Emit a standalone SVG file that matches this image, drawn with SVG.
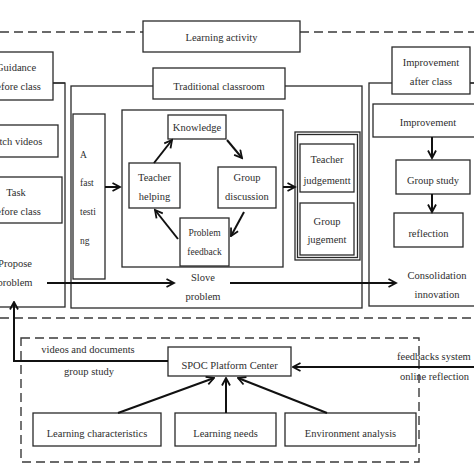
<svg xmlns="http://www.w3.org/2000/svg" width="474" height="474" viewBox="0 0 474 474">
<defs>
<style>
.b{fill:#fff;stroke:#2a2a2a;stroke-width:1.3}
.n{fill:none;stroke:#2a2a2a;stroke-width:1.3}
.d{fill:none;stroke:#3a3a3a;stroke-width:1.4;stroke-dasharray:9,5}
.a{fill:none;stroke:#111;stroke-width:2}
text{font-family:"Liberation Serif","Times New Roman",serif;font-size:10.5px;fill:#2e2e2e;text-anchor:middle}
.s{font-size:9.5px}
.l{text-anchor:start}
</style>
<marker id="ah" viewBox="0 0 10 10" refX="8.5" refY="5" markerWidth="5" markerHeight="5" orient="auto" markerUnits="strokeWidth">
<path d="M1,1 L8.5,5 L1,9" fill="none" stroke="#111" stroke-width="1.8"/>
</marker>
</defs>
<rect width="474" height="474" fill="#fff"/>

<g id="frames">
<line class="d" x1="0" y1="32" x2="143" y2="32"/>
<line class="d" x1="300" y1="32" x2="474" y2="32"/>
<line class="d" x1="0" y1="318" x2="474" y2="318"/>
<rect class="d" x="21" y="338" width="398" height="124"/>
<rect class="n" x="-20" y="83" width="85" height="224"/>
<rect class="n" x="71" y="86" width="291" height="222"/>
<rect class="n" x="369" y="83" width="120" height="223"/>
<line class="n" x1="53" y1="83" x2="65" y2="83"/>
</g>

<g id="learning-activity"><rect class="b" x="143" y="21" width="157" height="31"/><text x="221.5" y="41">Learning activity</text></g>
<g id="guidance"><rect class="b" x="-20" y="52" width="73" height="48"/><text x="16" y="71">Guidance</text><text x="16" y="90">before class</text></g>
<g id="watch-videos"><rect class="b" x="-20" y="125" width="78" height="32"/><text x="14" y="145">Watch videos</text></g>
<g id="task"><rect class="b" x="-20" y="177" width="82" height="46"/><text x="16" y="196">Task</text><text x="16" y="215">before class</text></g>
<g id="propose"><text x="15" y="267">Propose</text><text x="15" y="286">problem</text></g>

<g id="traditional"><rect class="b" x="153" y="68" width="132" height="31"/><text x="219" y="90">Traditional classroom</text></g>
<g id="fast-testing"><rect class="b" x="73" y="114" width="32" height="165"/>
<text class="l s" x="80" y="158">A</text><text class="l s" x="80" y="186">fast</text><text class="l s" x="80" y="215">testi</text><text class="l s" x="80" y="244">ng</text></g>
<g id="cycle"><rect class="n" x="122" y="110" width="161" height="157"/></g>
<g id="knowledge"><rect class="b" x="168" y="115" width="58" height="24"/><text x="197" y="131">Knowledge</text></g>
<g id="teacher-helping"><rect class="b" x="129" y="163" width="51" height="45"/><text x="154.5" y="181">Teacher</text><text x="154.5" y="200">helping</text></g>
<g id="group-discussion"><rect class="b" x="218" y="167" width="58" height="41"/><text x="247" y="181">Group</text><text x="247" y="200">discussion</text></g>
<g id="problem-feedback"><rect class="b" x="180" y="218" width="49" height="48"/><text class="s" x="204.5" y="236">Problem</text><text class="s" x="204.5" y="255">feedback</text></g>
<g id="judgement"><rect class="n" x="295" y="132" width="65" height="128"/>
<rect class="n" x="297.5" y="134.5" width="60" height="123"/></g>
<g id="teacher-judgement"><rect class="b" x="300" y="144" width="54" height="48"/><text x="327" y="163">Teacher</text><text x="327" y="184">judgementt</text></g>
<g id="group-jugement"><rect class="b" x="300" y="203" width="54" height="52"/><text x="327" y="225">Group</text><text x="327" y="243">jugement</text></g>
<g id="slove"><text x="203" y="281">Slove</text><text x="203" y="300">problem</text></g>

<g id="improvement-after"><rect class="b" x="392" y="47" width="78" height="47"/><text x="431" y="66">Improvement</text><text x="431" y="85">after class</text></g>
<line class="n" x1="470" y1="83" x2="474" y2="83"/>
<g id="improvement"><rect class="b" x="373" y="104" width="110" height="33"/><text x="428" y="126">Improvement</text></g>
<g id="group-study"><rect class="b" x="396" y="160" width="74" height="34"/><text x="433" y="184">Group study</text></g>
<g id="reflection"><rect class="b" x="394" y="213" width="69" height="34"/><text x="428.5" y="237">reflection</text></g>
<g id="consolidation"><text x="437" y="279">Consolidation</text><text x="437" y="298">innovation</text></g>

<g id="spoc"><rect class="b" x="168" y="347" width="123" height="29"/><text x="229.5" y="369">SPOC Platform Center</text></g>
<g id="spoc-labels"><text x="88" y="353">videos and documents</text><text x="89" y="375">group study</text>
<text class="l" x="397" y="360">feedbacks system</text><text class="l" x="400" y="380">online reflection</text></g>
<g id="learning-characteristics"><rect class="b" x="33" y="413" width="128" height="33"/><text x="97" y="437">Learning characteristics</text></g>
<g id="learning-needs"><rect class="b" x="175" y="413" width="101" height="33"/><text x="225.5" y="437">Learning needs</text></g>
<g id="environment-analysis"><rect class="b" x="285" y="413" width="131" height="33"/><text x="350.5" y="437">Environment analysis</text></g>

<g id="connectors">
<line class="a" x1="105" y1="187" x2="120" y2="187" marker-end="url(#ah)"/>
<line class="a" x1="283" y1="187" x2="295" y2="187" marker-end="url(#ah)"/>
<line class="a" x1="154" y1="163" x2="172" y2="140" marker-end="url(#ah)"/>
<line class="a" x1="227" y1="140" x2="242" y2="158" marker-end="url(#ah)"/>
<line class="a" x1="244" y1="212" x2="231" y2="236" marker-end="url(#ah)"/>
<line class="a" x1="178" y1="239" x2="155" y2="210" marker-end="url(#ah)"/>
<line class="a" x1="432" y1="137" x2="432" y2="158" marker-end="url(#ah)"/>
<line class="a" x1="432" y1="194" x2="432" y2="212" marker-end="url(#ah)"/>
<line class="a" x1="47" y1="283" x2="174" y2="283" marker-end="url(#ah)"/>
<line class="a" x1="230" y1="283" x2="396" y2="283" marker-end="url(#ah)"/>
<polyline class="a" points="168,361 14,361 14,302" marker-end="url(#ah)"/>
<line class="a" x1="474" y1="367" x2="293" y2="367" marker-end="url(#ah)"/>
<line class="a" x1="118" y1="413" x2="214" y2="378" marker-end="url(#ah)"/>
<line class="a" x1="226" y1="413" x2="226" y2="378" marker-end="url(#ah)"/>
<line class="a" x1="327" y1="413" x2="238" y2="378" marker-end="url(#ah)"/>
</g>
</svg>
